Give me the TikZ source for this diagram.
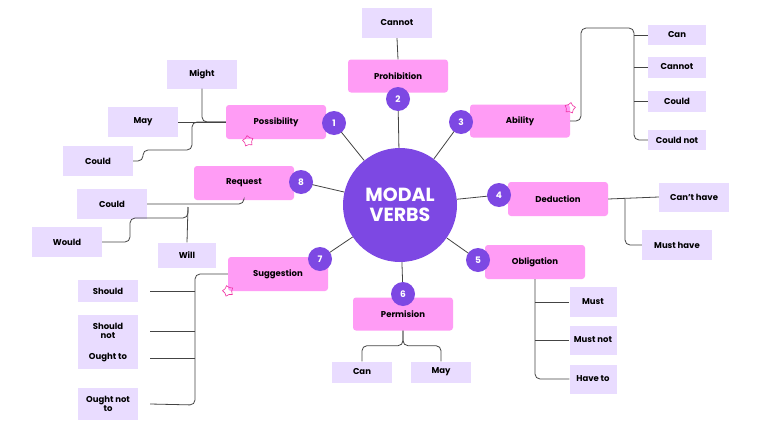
\documentclass[tikz,border=0pt]{standalone}
\usepackage{fontspec}
\setmainfont{Poppins}
\usetikzlibrary{shapes.geometric}
\definecolor{pinkb}{HTML}{FF9CF5}
\definecolor{lav}{HTML}{E9DCFF}
\definecolor{purp}{HTML}{7D48E3}
\definecolor{lin}{HTML}{444444}
\begin{document}
\begin{tikzpicture}[x=1pt,y=-1pt,
  every node/.style={font=\fontsize{8.5}{9.5}\selectfont\bfseries, text=black, align=center, inner sep=0pt},
  pbox/.style={fill=pinkb, rounded corners=3pt},
  lbox/.style={fill=lav},
  badge/.style={circle, fill=purp, minimum size=24pt, text=white, font=\fontsize{9}{10}\selectfont\bfseries},
  ln/.style={draw=lin, line width=0.8pt, rounded corners=5pt},
  starm/.style={star, star points=5, draw=magenta!80, line width=0.6pt, minimum size=11pt, inner sep=0pt}]
\useasboundingbox (0,0) rectangle (768,431);
\fill[white] (0,0) rectangle (768,431);
% center
\node[circle, fill=purp, minimum size=114pt, text=white, font=\fontsize{19}{20}\selectfont\bfseries] (c) at (400,205) {MODAL\\VERBS};
% spokes
\foreach \p in {(334,123),(398,99),(461,122),(499,195),(478,260),(403,294),(320,259),(301,182)}
  \draw[lin, line width=0.8pt] (c) -- \p;
% pink boxes
\node[pbox, minimum width=100pt, minimum height=33pt] (prohib) at (398,76) {Prohibition};
\node[pbox, minimum width=100pt, minimum height=34pt] (poss) at (276,122) {Possibility};
\node[pbox, minimum width=100pt, minimum height=33pt] (abil) at (520,121) {Ability};
\node[pbox, minimum width=100pt, minimum height=34pt] (dedu) at (558,199) {Deduction};
\node[pbox, minimum width=100pt, minimum height=34pt] (oblig) at (535,262) {Obligation};
\node[pbox, minimum width=100pt, minimum height=33pt] (perm) at (403,314) {Permision};
\node[pbox, minimum width=100pt, minimum height=34pt] (sugg) at (278,274) {Suggestion};
\node[pbox, minimum width=100pt, minimum height=34pt] (req) at (244,183) {Request};
% badges
\node[badge] (b1) at (334,123) {1};
\node[badge] (b2) at (398,99) {2};
\node[badge] (b3) at (461,122) {3};
\node[badge] (b4) at (499,195) {4};
\node[badge] (b5) at (478,260) {5};
\node[badge] (b6) at (403,294) {6};
\node[badge] (b7) at (320,259) {7};
\node[badge] (b8) at (301,182) {8};
% lavender
\node[lbox, minimum width=70pt, minimum height=30pt] (cannot0) at (397,23) {Cannot};
\node[lbox, minimum width=70pt, minimum height=29pt] (might) at (202,74) {Might};
\node[lbox, minimum width=70pt, minimum height=30pt] (may1) at (143,122) {May};
\node[lbox, minimum width=70pt, minimum height=30pt] (could1) at (98,161) {Could};
\node[lbox, minimum width=58pt, minimum height=20pt] (can3) at (677,35) {Can};
\node[lbox, minimum width=58pt, minimum height=21pt] (cannot3) at (677,67) {Cannot};
\node[lbox, minimum width=58pt, minimum height=21pt] (could3) at (677,101) {Could};
\node[lbox, minimum width=58pt, minimum height=20pt] (couldnot) at (677,140) {Could not};
\node[lbox, minimum width=70pt, minimum height=29pt] (canthave) at (694,197) {Can't have};
\node[lbox, minimum width=70pt, minimum height=30pt] (musthave) at (677,245) {Must have};
\node[lbox, minimum width=47pt, minimum height=30pt] (must) at (593,302) {Must};
\node[lbox, minimum width=47pt, minimum height=29pt] (mustnot) at (593,340) {Must not};
\node[lbox, minimum width=47pt, minimum height=29pt] (haveto) at (593,379) {Have to};
\node[lbox, minimum width=60pt, minimum height=21pt] (can6) at (362,372) {Can};
\node[lbox, minimum width=60pt, minimum height=21pt] (may6) at (441,372) {May};
\node[lbox, minimum width=60pt, minimum height=22pt] (should) at (108,291) {Should};
\node[lbox, minimum width=60pt, minimum height=33pt] (shouldnot) at (108,331) {Should\\not};
\node[lbox, minimum width=60pt, minimum height=21pt] (oughtto) at (108,358) {Ought to};
\node[lbox, minimum width=60pt, minimum height=32pt] (oughtnot) at (108,404) {Ought not\\to};
\node[lbox, minimum width=70pt, minimum height=30pt] (could8) at (112,204) {Could};
\node[lbox, minimum width=70pt, minimum height=30pt] (would) at (67,242) {Would};
\node[lbox, minimum width=58pt, minimum height=25pt] (will) at (187,255) {Will};
% connectors
\draw[ln] (prohib.north) -- (cannot0.south);
\draw[ln] (may1.east) -- (poss.west);
\draw[ln] (might.south) |- (poss.west);
\draw[ln] (could1.east) -- (143,161) -- (143,150) -- (192,150) -- (192,122) -- (poss.west);
\draw[ln] (abil.east) -- (581,121) -- (581,28) -- (634,28) -- (634,140) -- (couldnot.west);
\foreach \n in {can3,cannot3,could3} \draw[ln] (634,0 |- \n.west) -- (\n.west);
\draw[ln] (dedu.east) -- (canthave.west);
\draw[ln] (625,199) |- (musthave.west);
\draw[ln] (oblig.south) |- (haveto.west);
\foreach \n in {must,mustnot} \draw[ln] (535,0 |- \n.west) -- (\n.west);
\draw[ln] (perm.south) -- ++(0,15) -| (can6.north);
\draw[ln] (perm.south) -- ++(0,15) -| (may6.north);
\draw[ln] (sugg.west) -| (195,405) -- ([xshift=12pt]oughtnot.east);
\foreach \n in {should,oughtto} \draw[ln] (195,0 |- \n.east) -- ([xshift=12pt]\n.east);
\draw[ln] (195,331) -- ([xshift=12pt]shouldnot.east);
\draw[ln] (req.south) |- (could8.east);
\draw[ln] (188,207) -- (will.north);
\draw[ln] (188,207) |- (130,218) |- (would.east);
% stars
\node[starm, rotate=10] (s1) at (248,141) {};
\node[starm, rotate=-10] (s2) at (570,108) {};
\node[starm, rotate=15] (s3) at (228,291) {};
\end{tikzpicture}
\end{document}
